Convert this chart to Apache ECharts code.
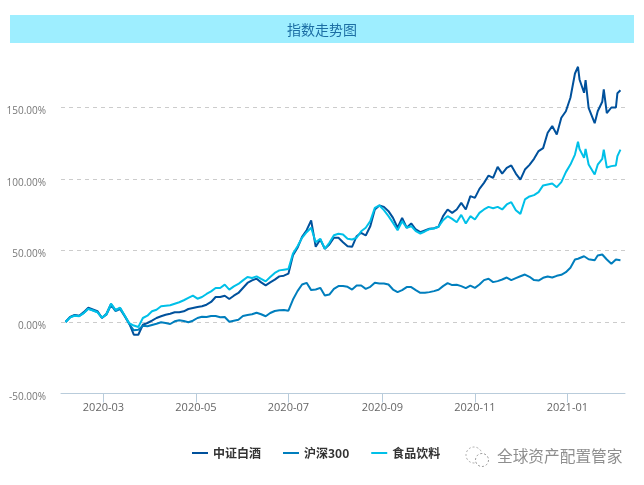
<!DOCTYPE html>
<html>
<head>
<meta charset="utf-8">
<style>html,body{margin:0;padding:0;background:#fff}#c{width:644px;height:485px}</style>
<script src="https://cdn.jsdelivr.net/npm/echarts@6/dist/echarts.min.js"></script>
</head>
<body>
<div id="c"></div>
<script>
const titleText = '指数走势图';
const watermark = '全球资产配置管家';
const seriesNames = ['中证白酒', '沪深300', '食品饮料'];
const tickDates = ['2020-03-01','2020-05-01','2020-07-01','2020-09-01','2020-11-01','2021-01-01'];
const dates = [
'2020-02-05','2020-02-08','2020-02-11','2020-02-14','2020-02-17','2020-02-20','2020-02-23','2020-02-26','2020-02-29',
'2020-03-03','2020-03-06','2020-03-09','2020-03-12','2020-03-15','2020-03-18','2020-03-21','2020-03-24','2020-03-27','2020-03-30',
'2020-04-02','2020-04-05','2020-04-08','2020-04-11','2020-04-14','2020-04-17','2020-04-20','2020-04-23','2020-04-26','2020-04-29',
'2020-05-02','2020-05-05','2020-05-08','2020-05-11','2020-05-14','2020-05-17','2020-05-20','2020-05-23','2020-05-26','2020-05-29',
'2020-06-01','2020-06-04','2020-06-07','2020-06-10','2020-06-13','2020-06-16','2020-06-19','2020-06-22','2020-06-25','2020-06-28',
'2020-07-01','2020-07-04','2020-07-07','2020-07-10','2020-07-13','2020-07-16','2020-07-19','2020-07-22','2020-07-25','2020-07-28','2020-07-31',
'2020-08-03','2020-08-06','2020-08-09','2020-08-12','2020-08-15','2020-08-18','2020-08-21','2020-08-24','2020-08-27','2020-08-30',
'2020-09-02','2020-09-05','2020-09-08','2020-09-11','2020-09-14','2020-09-17','2020-09-20','2020-09-23','2020-09-26','2020-09-29',
'2020-10-02','2020-10-05','2020-10-08','2020-10-11','2020-10-14','2020-10-17','2020-10-20','2020-10-23','2020-10-26','2020-10-29',
'2020-11-01','2020-11-04','2020-11-07','2020-11-10','2020-11-13','2020-11-16','2020-11-19','2020-11-22','2020-11-25','2020-11-28',
'2020-12-01','2020-12-04','2020-12-07','2020-12-10','2020-12-13','2020-12-16','2020-12-19','2020-12-22','2020-12-25','2020-12-28','2020-12-31',
'2021-01-03','2021-01-06','2021-01-08','2021-01-09','2021-01-12','2021-01-13','2021-01-15','2021-01-19','2021-01-21','2021-01-24','2021-01-25','2021-01-27','2021-01-30','2021-02-02','2021-02-03','2021-02-05'];
const baijiu = [
0,3.6,4.9,4.4,6.9,10,8.8,7.6,2.8,5.8,12.6,8.2,9.6,4.4,-1,-8.9,-8.9,-1.9,-0.7,0.9,2.8,4,5.1,5.8,6.8,6.8,7.5,9.1,9.8,10.5,11,12.1,14,17.5,17.5,18.4,16.1,18.4,20.3,23.8,27.3,29.1,30.3,27.7,25.6,27.7,29.6,31.9,32.4,33.8,
46.7,51.9,59.6,64.2,71,52.6,57.7,51.2,54.2,58.9,58.9,55.8,53,52.6,60,62.4,60.5,67,78.7,81.5,80.5,77.5,72.8,65.9,72.8,
65.9,68.9,64.7,62.8,64,65.2,65.6,66.6,74,78.7,76.3,78.7,83.3,78.7,88,86.8,93.1,97.3,102.4,100.8,108.5,103.8,107.8,109.5,103.8,99.5,
106.6,109.9,114.1,119.5,121.6,132.3,137,131.1,142.8,147.4,156.8,173.8,178.5,169.6,160.3,169.1,149.8,139,147.4,154,162.6,146,150,150,160,162.1];
const hs300 = [
0,3.3,4.6,4.2,6.3,9.2,8.2,7,3,5.2,11.8,7.6,9,4,-1.4,-5.8,-5.4,-2.6,-3,-2.1,-1.2,-0.2,-0.7,-1.4,0.5,1.2,0.7,-0.2,0.9,2.8,3.7,3.5,4.2,4.2,3.3,3.5,0.2,0.9,1.6,4.2,4.9,5.4,6.5,5.4,4,6.3,7.7,8.2,8.4,7.9,
15.7,21.6,26.2,27.4,22.3,22.7,23.9,18.5,19.2,23.2,25.1,25.1,24.6,22.7,25.5,25.5,23.2,24.6,27.4,26.9,26.9,26.2,22.7,20.9,22.3,
24.4,24.4,22.3,20.4,20.4,20.9,21.6,22.5,25.1,27.2,25.8,26,25.1,23.7,25.5,23.9,26.2,29.3,30.2,27.9,28.6,29.7,31.1,29.3,30.7,32,
33.2,31.6,29.3,29,30.9,31.8,31.1,32.3,33,34.8,37.9,43.7,44.2,43.5,46,45.6,43.9,43.2,46.5,47.2,46.5,43.7,40.7,43.7,44,43.2];
const food = [
0,3.2,4.4,4,6.2,9.2,8,6.8,3,5.6,12.8,8.4,10,4.6,-0.8,-2.5,-3.5,2.8,4.4,7.5,8.6,11,11.4,11.7,12.8,13.8,15.2,16.8,18.4,16.3,17.5,19.6,21.4,23.8,23.8,26.1,22.6,24.9,26.6,29.1,31.5,30.8,31.9,30.1,28.4,31.5,34.3,36.1,36.6,37,
47.9,53,58.9,62.8,65.9,55.8,58.2,51.2,55.4,60.7,61.7,61.2,58.2,57.7,58.9,63.5,65.9,70.5,79.8,81.5,78.2,74,69.3,64.2,70.5,
65.9,67,63.5,61.9,63.3,64.9,65.4,66.6,71.2,74,72.1,69.8,74.9,68.9,74,71.7,76.3,78.7,80.5,79.6,80.5,78.7,82.2,83.8,78.2,75.6,
85.7,87.8,88.7,90.8,95.5,96.2,96.9,94.3,97.8,104.8,110.1,117.1,126,121,114.8,121,110.1,103.2,110,114,120.5,108,109,109.5,116,120.5];
const yTicks = {min:-50, max:200, step:50};

const ts = s => new Date(s+'T00:00:00').getTime();
const pair = v => v.map((y,i)=>[ts(dates[i]), y]);
const font = '"Open Sans","Noto Sans CJK SC",sans-serif';
const chart = echarts.init(document.getElementById('c'), null, {renderer:'canvas'});
const mk = (name, v, color) => ({name, type:'line', data:pair(v), showSymbol:false, symbol:'none',
  smooth:false, lineStyle:{color, width:2}, itemStyle:{color}, animation:false});
chart.setOption({
  animation:false,
  backgroundColor:'#fff',
  title:{text:titleText, left:'center', top:17, textStyle:{color:'#1c6ea4', fontSize:14, fontWeight:'normal', fontFamily:'"Noto Sans CJK SC",sans-serif', lineHeight:16}},
  graphic:[
    {type:'rect', z:-1, shape:{x:10,y:15,width:624,height:28}, style:{fill:'#9eeeff'}},
    {type:'text', z:5, left:497, top:448, style:{text:watermark, fill:'#7a7a7a', fontSize:15.7, fontFamily:'"Noto Sans CJK SC",sans-serif', opacity:0.85}},
    {type:'circle', z:5, shape:{cx:474,cy:455,r:8}, style:{fill:'none', stroke:'#aaa', lineWidth:1, lineDash:[2,2]}},
    {type:'circle', z:5, shape:{cx:482,cy:460,r:6.5}, style:{fill:'#fff', stroke:'#999', lineWidth:1, lineDash:[2,2]}}
  ],
  legend:{left:192, top:447, padding:0, itemWidth:16, itemHeight:2, itemGap:22,
    icon:'rect',
    textStyle:{color:'#333', fontSize:12, fontWeight:'bold', fontFamily:'"Noto Sans CJK SC",sans-serif', padding:[0,0,0,0]},
    data:seriesNames},
  grid:{left:61, right:19, top:36, bottom:91.5, containLabel:false},
  xAxis:{type:'value', min:ts('2020-02-02'), max:ts('2021-02-08'),
    axisLine:{onZero:false, lineStyle:{color:'#b9ccdb', width:1}},
    axisTick:{show:true, length:9, customValues:tickDates.map(ts), lineStyle:{color:'#b9ccdb'}},
    splitLine:{show:false},
    axisLabel:{customValues:tickDates.map(ts), color:'#666', fontSize:11, fontFamily:font, margin:9,
      formatter:v=>echarts.time.format(v,'{yyyy}-{MM}',false), hideOverlap:false}},
  yAxis:{type:'value', min:yTicks.min, max:yTicks.max, interval:yTicks.step,
    axisLine:{show:false}, axisTick:{show:false},
    splitLine:{show:true, showMinLine:false, showMaxLine:false, lineStyle:{color:'#cccccc', type:[4,4], width:1}},
    axisLabel:{color:'#777', fontSize:10, fontFamily:font, margin:15, showMaxLabel:false, verticalAlign:'top', lineHeight:8,
      formatter:v=>v.toFixed(2)+'%'}},
  series:[mk(seriesNames[0], baijiu, '#00519c'), mk(seriesNames[1], hs300, '#007ebd'), mk(seriesNames[2], food, '#00c0e8')]
});
</script>
</body>
</html>
